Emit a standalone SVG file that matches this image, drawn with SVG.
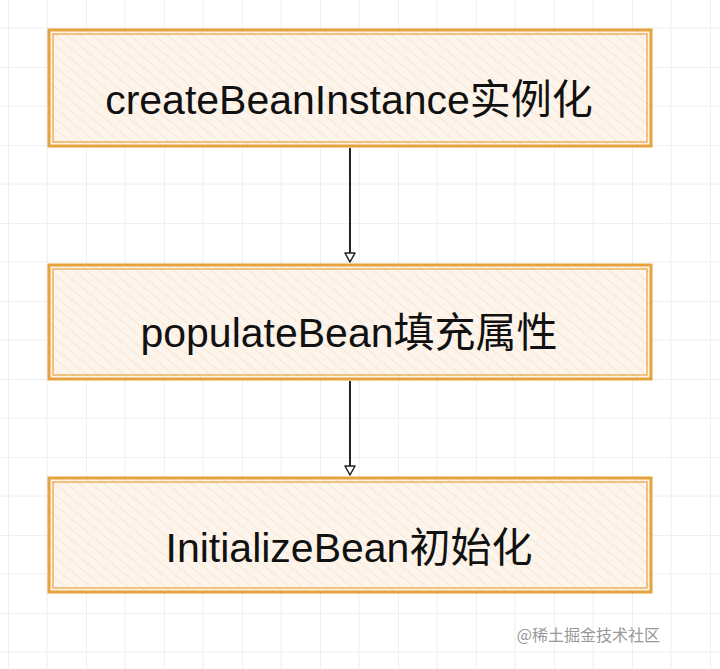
<svg xmlns="http://www.w3.org/2000/svg" width="720" height="669" viewBox="0 0 720 669">
<defs>
<pattern id="grid" width="78" height="78" patternUnits="userSpaceOnUse" x="8" y="67">
<path d="M39 0V78M0 39H78" stroke="#eeeef0" stroke-width="1" fill="none"/>
<path d="M0 0V78M0 0H78" stroke="#e2e2e6" stroke-width="1" fill="none"/>
</pattern>
<pattern id="hatch" width="8" height="8" patternUnits="userSpaceOnUse" patternTransform="rotate(-50)">
<rect width="8" height="8" fill="#fdf5ec"/>
<line x1="0" y1="0" x2="0" y2="8" stroke="#f6e2cc" stroke-width="1.5"/>
</pattern>
<marker id="arr" markerWidth="12" markerHeight="12" refX="11" refY="6" orient="auto" markerUnits="userSpaceOnUse" viewBox="0 0 12 12">
<path d="M2 1L11 6L2 11Z" fill="#fff" stroke="#222" stroke-width="1.5" stroke-linejoin="round"/>
</marker>
</defs>
<style>
.box{fill:url(#hatch);stroke:#e6a23c;stroke-width:3}
.inner{fill:none;stroke:#e6a23c;stroke-width:1.2}
.lbl{font-family:"Liberation Sans","Noto Sans CJK SC",sans-serif;font-size:41px;fill:#111;text-anchor:middle;dominant-baseline:central}
.conn{stroke:#222;stroke-width:2;fill:none;marker-end:url(#arr)}
</style>
<rect width="720" height="669" fill="#fff"/>
<rect width="720" height="669" fill="url(#grid)"/>
<g id="node1"><rect class="box" x="49" y="30" width="602" height="116"/><rect class="inner" x="53" y="34" width="594" height="108"/><text class="lbl" x="349" y="100">createBeanInstance实例化</text></g>
<g id="node2"><rect class="box" x="49" y="265" width="602" height="114"/><rect class="inner" x="53" y="269" width="594" height="106"/><text class="lbl" x="349" y="333">populateBean填充属性</text></g>
<g id="node3"><rect class="box" x="49" y="478" width="602" height="114"/><rect class="inner" x="53" y="482" width="594" height="106"/><text class="lbl" x="349" y="548">InitializeBean初始化</text></g>
<g id="connectors">
<path class="conn" d="M350 148V262"/>
<path class="conn" d="M350 381V475"/>
</g>
<text x="660" y="641" font-family="'Noto Sans CJK SC',sans-serif" font-size="16" fill="#999" text-anchor="end">@稀土掘金技术社区</text>
</svg>
